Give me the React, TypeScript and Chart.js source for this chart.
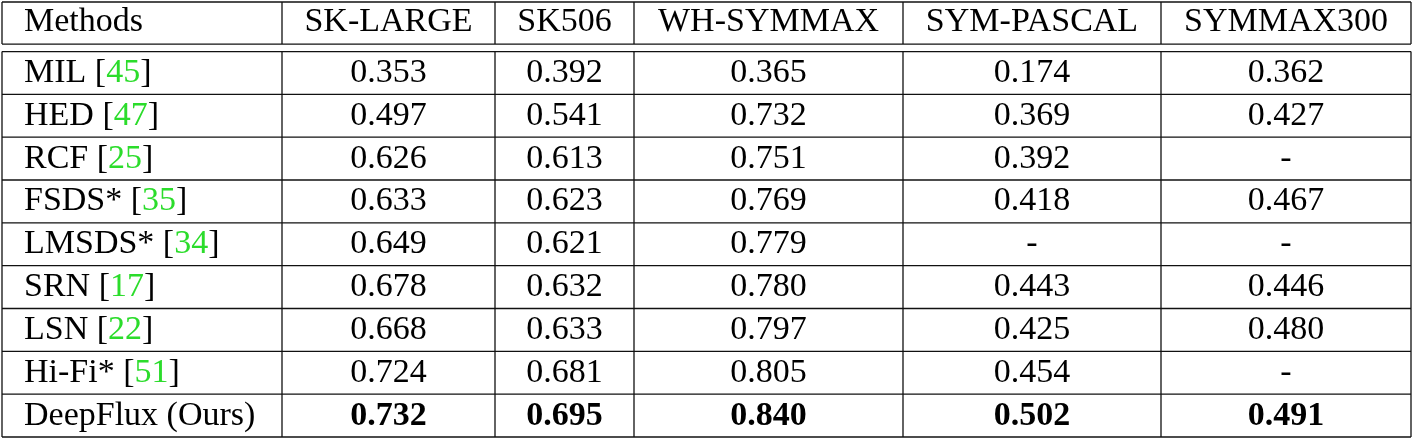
import React, { useEffect, useRef } from 'react';
import { Chart, registerables } from 'chart.js';

Chart.register(...registerables);

// table content
const columns = ['SK-LARGE', 'SK506', 'WH-SYMMAX', 'SYM-PASCAL', 'SYMMAX300'];
const methods = ['MIL', 'HED', 'RCF', 'FSDS*', 'LMSDS*', 'SRN', 'LSN', 'Hi-Fi*', 'DeepFlux (Ours)'];
const refs = ['45', '47', '25', '35', '34', '17', '22', '51', null];
const skLarge = [0.353, 0.497, 0.626, 0.633, 0.649, 0.678, 0.668, 0.724, 0.732];
const sk506 = [0.392, 0.541, 0.613, 0.623, 0.621, 0.632, 0.633, 0.681, 0.695];
const whSymmax = [0.365, 0.732, 0.751, 0.769, 0.779, 0.78, 0.797, 0.805, 0.84];
const symPascal = [0.174, 0.369, 0.392, 0.418, null, 0.443, 0.425, 0.454, 0.502];
const symmax300 = [0.362, 0.427, null, 0.467, null, 0.446, 0.48, null, 0.491];

const series = [skLarge, sk506, whSymmax, symPascal, symmax300];

// layout (table units)
const colWidths = [280, 213, 139, 269, 258, 250];
const HEADER_H = 42;
const GAP = 7.5;
const ROW_H = 42.8;
const FONT = '"Liberation Serif", "Times New Roman", serif';
const FONT_SIZE = 34;
const GREEN = '#2bdc2b';

const colEdges = colWidths.reduce((acc, w) => [...acc, acc[acc.length - 1] + w], [0]);
const bodyTop = HEADER_H + GAP;
const tableH = bodyTop + methods.length * ROW_H;
const rowCenter = (i: number) => bodyTop + (i + 0.5) * ROW_H;
const colCenter = (j: number) => (colEdges[j] + colEdges[j + 1]) / 2;

const tablePlugin = {
  id: 'tableDraw',
  afterDatasetsDraw(chart: any) {
    const { ctx } = chart;
    const xs = chart.scales.x;
    const ys = chart.scales.y;
    const px = (v: number) => xs.getPixelForValue(v);
    const py = (v: number) => ys.getPixelForValue(v);

    ctx.save();
    ctx.strokeStyle = '#111';
    ctx.lineWidth = 1.3;

    // horizontal rules
    const hLines = [0, HEADER_H, bodyTop];
    for (let k = 1; k <= methods.length; k++) hLines.push(bodyTop + k * ROW_H);
    hLines.forEach((v) => {
      ctx.beginPath();
      ctx.moveTo(px(0), py(v));
      ctx.lineTo(px(colEdges[colEdges.length - 1]), py(v));
      ctx.stroke();
    });

    // vertical rules, broken across the double line
    colEdges.forEach((e) => {
      ctx.beginPath();
      ctx.moveTo(px(e), py(0));
      ctx.lineTo(px(e), py(HEADER_H));
      ctx.moveTo(px(e), py(bodyTop));
      ctx.lineTo(px(e), py(tableH));
      ctx.stroke();
    });

    ctx.fillStyle = '#000';
    ctx.textBaseline = 'alphabetic';
    const base = 9;

    // header
    ctx.font = `${FONT_SIZE}px ${FONT}`;
    ctx.textAlign = 'left';
    ctx.fillText('Methods', px(22), py(HEADER_H / 2) + base - 1);
    ctx.textAlign = 'center';
    columns.forEach((c, j) => {
      ctx.fillText(c, px(colCenter(j + 1)), py(HEADER_H / 2) + base - 1);
    });

    // method names with green citations
    const nameMeta = chart.getDatasetMeta(0);
    ctx.textAlign = 'left';
    methods.forEach((m, i) => {
      const pt = nameMeta.data[i];
      let x = pt.x;
      const y = pt.y + base;
      const parts: [string, string][] = refs[i]
        ? [[m + ' [', '#000'], [refs[i] as string, GREEN], [']', '#000']]
        : [[m, '#000']];
      parts.forEach(([t, col]) => {
        ctx.fillStyle = col;
        ctx.fillText(t, x, y);
        x += ctx.measureText(t).width;
      });
    });

    // values
    ctx.textAlign = 'center';
    ctx.fillStyle = '#000';
    series.forEach((vals, j) => {
      const meta = chart.getDatasetMeta(j + 1);
      vals.forEach((v, i) => {
        const pt = meta.data[i];
        const last = i === methods.length - 1;
        ctx.font = `${last ? 'bold ' : ''}${FONT_SIZE}px ${FONT}`;
        ctx.fillText(v === null ? '-' : v.toFixed(3), pt.x, pt.y + base);
      });
    });
    ctx.restore();
  },
};

const App: React.FC = () => {
  const canvasRef = useRef<HTMLCanvasElement>(null);

  useEffect(() => {
    document.body.style.margin = '0';
    if (!canvasRef.current) return;

    const datasets = [
      {
        label: 'Methods',
        data: methods.map((_, i) => ({ x: 22, y: rowCenter(i) })),
        pointRadius: 0,
      },
      ...series.map((vals, j) => ({
        label: columns[j],
        data: vals.map((_, i) => ({ x: colCenter(j + 1), y: rowCenter(i) })),
        pointRadius: 0,
      })),
    ];

    const chart = new Chart(canvasRef.current, {
      type: 'scatter',
      data: { datasets },
      options: {
        animation: false,
        responsive: true,
        maintainAspectRatio: false,
        layout: { padding: { left: 2, top: 2, right: 4, bottom: 6 } },
        plugins: { legend: { display: false }, tooltip: { enabled: false } },
        scales: {
          x: { type: 'linear', min: 0, max: colEdges[colEdges.length - 1], display: false },
          y: { type: 'linear', min: 0, max: tableH, reverse: true, display: false },
        },
      },
      plugins: [tablePlugin],
    });

    return () => {
      chart.destroy();
    };
  }, []);

  return (
    <div style={{ position: 'relative', width: '1415px', height: '443px', background: '#fff' }}>
      <canvas ref={canvasRef} />
    </div>
  );
};

export default App;
